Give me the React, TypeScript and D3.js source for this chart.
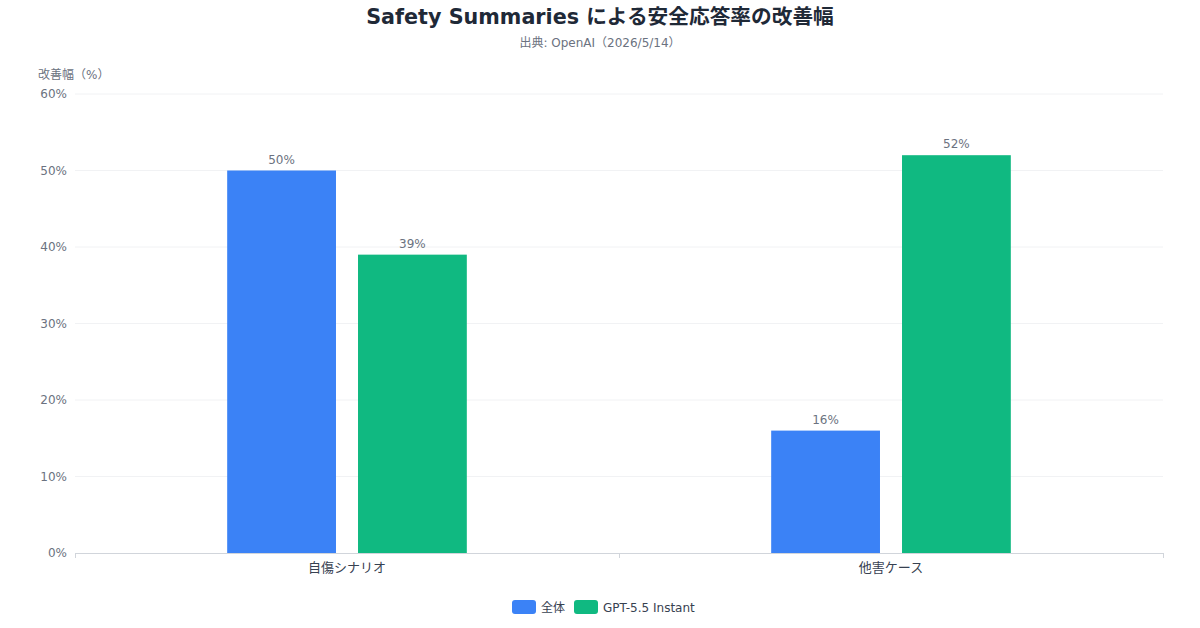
import React from "react";
import * as d3 from "d3";

const categories = ["自傷シナリオ", "他害ケース"];
const seriesNames = ["全体", "GPT-5.5 Instant"];
const seriesColors = ["#3b82f6", "#10b981"];
const valuesAll = [50, 16];
const valuesInstant = [39, 52];
const yTicks = [0, 10, 20, 30, 40, 50, 60];

const W = 1200;
const H = 628;
const FONT = "'DejaVu Sans', 'Noto Sans CJK JP', sans-serif";

export default function App() {
  const left = 75, right = 1163, top = 94, bottom = 553;
  const x = d3.scaleBand<string>().domain(categories).range([left, right]).paddingInner(0).paddingOuter(0);
  const y = d3.scaleLinear().domain([0, 60]).range([bottom, top]);
  const barW = x.bandwidth() * 0.2;
  const gap = x.bandwidth() * 0.0405;
  const series = [valuesAll, valuesInstant];

  return (
    <svg width={W} height={H} style={{ position: "absolute", left: 0, top: 0, background: "#fff" }} fontFamily={FONT}>
      <rect x={0} y={0} width={W} height={H} fill="#ffffff" />
      <text x={600} y={24} textAnchor="middle" fontSize={20.7} fontWeight="bold" fill="#1f2937">Safety Summaries による安全応答率の改善幅</text>
      <text x={600} y={47} textAnchor="middle" fontSize={12} fill="#6b7280">出典: OpenAI（2026/5/14）</text>
      <text x={38} y={79} fontSize={12} fill="#6b7280">改善幅（%）</text>
      {yTicks.map((t) => (
        <g key={t}>
          {t > 0 && <line x1={left} x2={right} y1={y(t)} y2={y(t)} stroke="#f1f2f4" strokeWidth={1} />}
          <text x={67} y={y(t) + 4} textAnchor="end" fontSize={12} fill="#6b7280">{t}%</text>
        </g>
      ))}
      {categories.map((c, ci) => {
        const cx = (x(c) as number) + x.bandwidth() / 2;
        return (
          <g key={c}>
            {series.map((vals, si) => {
              const bx = si === 0 ? cx - gap / 2 - barW : cx + gap / 2;
              return (
                <g key={si}>
                  <rect x={bx} y={y(vals[ci])} width={barW} height={bottom - y(vals[ci])} fill={seriesColors[si]} />
                  <text x={bx + barW / 2} y={y(vals[ci]) - 7} textAnchor="middle" fontSize={12} fill="#6b7280">{vals[ci]}%</text>
                </g>
              );
            })}
            <text x={cx} y={572} textAnchor="middle" fontSize={13} fill="#374151">{c}</text>
          </g>
        );
      })}
      <line x1={left} x2={right} y1={bottom + 0.5} y2={bottom + 0.5} stroke="#d1d5db" strokeWidth={1} />
      {[...categories.map((c) => x(c) as number), right].map((tx, i) => (
        <line key={i} x1={tx + 0.5} x2={tx + 0.5} y1={bottom} y2={bottom + 5} stroke="#d1d5db" strokeWidth={1} />
      ))}
      {seriesNames.map((s, i) => {
        const lx = i === 0 ? 512 : 574;
        return (
          <g key={s}>
            <rect x={lx} y={600} width={24} height={14} rx={3} fill={seriesColors[i]} />
            <text x={lx + 29} y={611.5} fontSize={12} fill="#374151">{s}</text>
          </g>
        );
      })}
    </svg>
  );
}
